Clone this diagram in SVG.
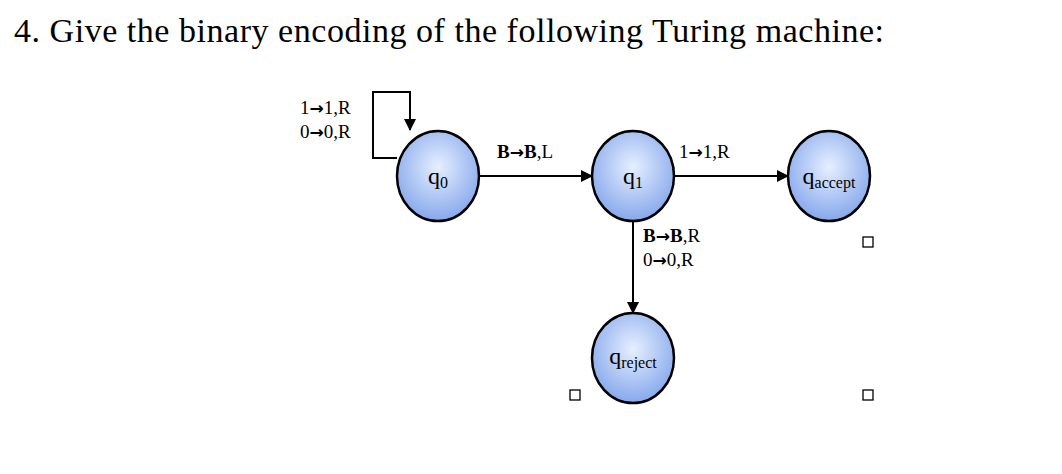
<svg xmlns="http://www.w3.org/2000/svg" width="1062" height="474" viewBox="0 0 1062 474">
<style>
text{font-family:"Liberation Serif","Times New Roman",serif;fill:#000}
.t{font-size:34px}
.l{font-size:19px}
.r{font-family:"DejaVu Sans",sans-serif;font-weight:bold;font-size:17px}
.n{font-size:24px;text-anchor:middle}
.s{font-size:16px}
.c{stroke:#000;stroke-width:2.5;fill:url(#g)}
.e{stroke:#000;stroke-width:2;fill:none}
.b{fill:#fff;stroke:#000;stroke-width:1.3}
</style>
<defs>
<radialGradient id="g" cx="0.5" cy="0.4" r="0.6"><stop offset="0" stop-color="#e6efff"/><stop offset="1" stop-color="#86a8ec"/></radialGradient>
<marker id="a" markerWidth="12" markerHeight="12" refX="11" refY="6" orient="auto" markerUnits="userSpaceOnUse"><path d="M0,0 L12,6 L0,12 Z" fill="#000"/></marker>
</defs>
<rect width="1062" height="474" fill="#fff"/>
<text class="t" x="14" y="42" textLength="870">4.  Give the binary encoding of the following Turing machine:</text>
<g id="edges">
<path class="e" d="M397,158 H373 V92 H410 V130" marker-end="url(#a)"/>
<path class="e" d="M479,176 H592" marker-end="url(#a)"/>
<path class="e" d="M674,176 H788" marker-end="url(#a)"/>
<path class="e" d="M633,222 V313" marker-end="url(#a)"/>
<text class="l" x="300" y="114">1<tspan class="r">→</tspan>1,R</text>
<text class="l" x="300" y="138">0<tspan class="r">→</tspan>0,R</text>
<text class="l" x="497" y="158"><tspan font-weight="bold">B<tspan class="r">→</tspan>B</tspan>,L</text>
<text class="l" x="679" y="158">1<tspan class="r">→</tspan>1,R</text>
<text class="l" x="643" y="242"><tspan font-weight="bold">B<tspan class="r">→</tspan>B</tspan>,R</text>
<text class="l" x="643" y="266">0<tspan class="r">→</tspan>0,R</text>
</g>
<g id="q0"><ellipse class="c" cx="438" cy="176" rx="41" ry="45"/><text class="n" x="438" y="184">q<tspan class="s" dy="4">0</tspan></text></g>
<g id="q1"><ellipse class="c" cx="633" cy="176" rx="41" ry="45"/><text class="n" x="633" y="184">q<tspan class="s" dy="4">1</tspan></text></g>
<g id="qaccept"><ellipse class="c" cx="829" cy="176" rx="41" ry="45"/><text class="n" x="829" y="184" font-size="22">q<tspan class="s" dy="4" font-size="15">accept</tspan></text></g>
<g id="qreject"><ellipse class="c" cx="633" cy="358" rx="41" ry="45"/><text class="n" x="633" y="364" font-size="22">q<tspan class="s" dy="4" font-size="15">reject</tspan></text></g>
<rect class="b" x="863" y="237" width="10" height="10"/>
<rect class="b" x="570" y="390" width="10" height="10"/>
<rect class="b" x="863" y="390" width="10" height="10"/>
</svg>
